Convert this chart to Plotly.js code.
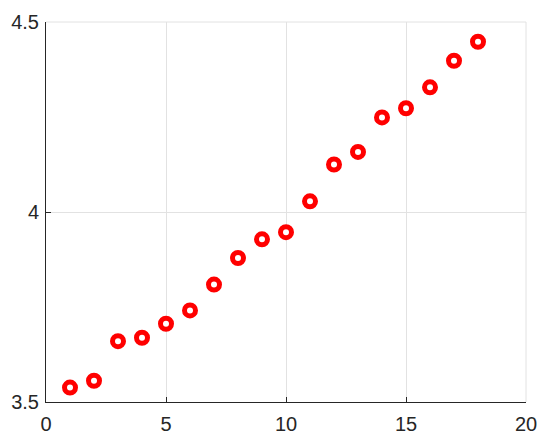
<!DOCTYPE html>
<html>
<head>
<meta charset="utf-8">
<script src="https://cdn.plot.ly/plotly-3.0.1.min.js"></script>
<style>
  html, body { margin: 0; padding: 0; background: #fff; }
  #chart { width: 550px; height: 444px; }
</style>
</head>
<body>
<div id="chart"></div>
<script>
const xs = [1, 2, 3, 4, 5, 6, 7, 8, 9, 10, 11, 12, 13, 14, 15, 16, 17, 18];
const ys = [3.538, 3.556, 3.660, 3.669, 3.706, 3.741, 3.809, 3.879, 3.928,
            3.947, 4.028, 4.125, 4.158, 4.249, 4.273, 4.328, 4.398, 4.448];

const xTicks = [0, 5, 10, 15, 20];
const yTicks = [3.5, 4, 4.5];

const data = [{
  x: xs,
  y: ys,
  type: 'scatter',
  mode: 'markers',
  marker: {
    symbol: 'circle',
    size: 11,
    color: '#ffffff',
    line: { color: '#ff0000', width: 5 }
  },
  hoverinfo: 'skip'
}];

const axisCommon = {
  showgrid: true,
  gridcolor: '#e2e2e2',
  gridwidth: 1,
  zeroline: false,
  showline: true,
  linecolor: '#262626',
  linewidth: 1,
  ticks: 'inside',
  ticklen: 5,
  tickcolor: '#262626',
  tickfont: { family: 'Liberation Sans, Arial, sans-serif', size: 20, color: '#262626' },
  mirror: false
};

const layout = {
  width: 550,
  height: 444,
  margin: { l: 46, r: 24, t: 22, b: 42 },
  paper_bgcolor: '#ffffff',
  plot_bgcolor: '#ffffff',
  showlegend: false,
  xaxis: Object.assign({}, axisCommon, {
    range: [0, 20],
    tickvals: xTicks,
    ticktext: xTicks.map(String),
    ticklabelstandoff: 4
  }),
  yaxis: Object.assign({}, axisCommon, {
    range: [3.5, 4.5],
    tickvals: yTicks,
    ticktext: yTicks.map(String),
    ticklabelstandoff: 2
  }),
  shapes: [
    // light box lines along the top and right edges
    { type: 'line', xref: 'paper', yref: 'paper', x0: 0, x1: 1, y0: 1, y1: 1,
      line: { color: '#e2e2e2', width: 1 } },
    { type: 'line', xref: 'paper', yref: 'paper', x0: 1, x1: 1, y0: 0, y1: 1,
      line: { color: '#e2e2e2', width: 1 } }
  ]
};

Plotly.newPlot('chart', data, layout, { displayModeBar: false, staticPlot: true });
</script>
</body>
</html>
